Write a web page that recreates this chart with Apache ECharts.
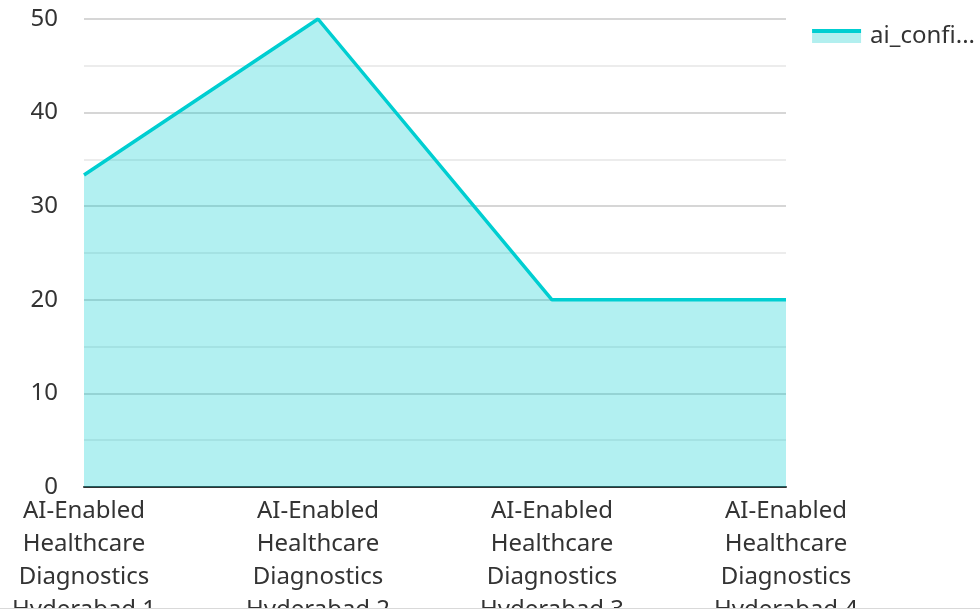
<!DOCTYPE html>
<html><head><meta charset="utf-8">
<script src="https://cdn.jsdelivr.net/npm/echarts@6/dist/echarts.min.js"></script>
<style>
html,body{margin:0;padding:0;background:#fff;overflow:hidden;}
#c{width:980px;height:608px;border-bottom:1px solid #d9d9d9;}
</style></head>
<body><div id="c"></div>
<script>
const categories = [
  "AI-Enabled Healthcare Diagnostics Hyderabad 1",
  "AI-Enabled Healthcare Diagnostics Hyderabad 2",
  "AI-Enabled Healthcare Diagnostics Hyderabad 3",
  "AI-Enabled Healthcare Diagnostics Hyderabad 4"
];
const seriesName = "ai_confidence_score";
const values = [33.33, 50, 20, 20];
const yTicks = [0, 10, 20, 30, 40, 50];

const chart = echarts.init(document.getElementById('c'), null, {renderer: 'canvas'});
const font = "'Noto Sans', sans-serif";
chart.setOption({
  animation: false,
  textStyle: {fontFamily: font},
  grid: {left: 84, right: 194, top: 19, bottom: 121, containLabel: false, outerBoundsMode: 'none'},
  legend: {
    right: 0, top: 19,
    icon: 'rect',
    itemWidth: 49, itemHeight: 14,
    itemGap: 10,
    itemStyle: {
      color: {type: 'linear', x: 0, y: 0, x2: 0, y2: 1, colorStops: [
        {offset: 0, color: '#00CED1'}, {offset: 0.28, color: '#00CED1'},
        {offset: 0.28, color: '#b2efef'}, {offset: 1, color: '#b2efef'}
      ]}
    },
    textStyle: {fontSize: 24, color: '#333', fontFamily: font, width: 112, overflow: 'truncate', padding: [0, 0, 0, 4]},
    data: [seriesName]
  },
  xAxis: {
    type: 'category',
    data: categories,
    boundaryGap: false,
    axisLine: {lineStyle: {color: '#333', width: 2}},
    axisTick: {show: false},
    axisLabel: {
      interval: 0, fontSize: 24, color: '#333', fontFamily: font, lineHeight: 33,
      margin: 8,
      formatter: v => v.replace('AI-Enabled Healthcare Diagnostics Hyderabad', 'AI-Enabled\nHealthcare\nDiagnostics\nHyderabad')
    }
  },
  yAxis: {
    type: 'value',
    min: yTicks[0], max: yTicks[yTicks.length - 1], interval: 10,
    axisLine: {show: false},
    axisTick: {show: false},
    axisLabel: {fontSize: 24, color: '#333', fontFamily: font, margin: 26},
    splitLine: {lineStyle: {color: '#c8c8c8', width: 1.5}},
    minorTick: {show: false, splitNumber: 2},
    minorSplitLine: {show: true, lineStyle: {color: '#e6e6e6', width: 1.5}}
  },
  series: [{
    name: seriesName,
    type: 'line',
    data: values,
    symbol: 'none',
    lineStyle: {color: '#00CED1', width: 3.5},
    itemStyle: {color: '#00CED1'},
    areaStyle: {color: '#00CED1', opacity: 0.3}
  }]
});
</script></body></html>
